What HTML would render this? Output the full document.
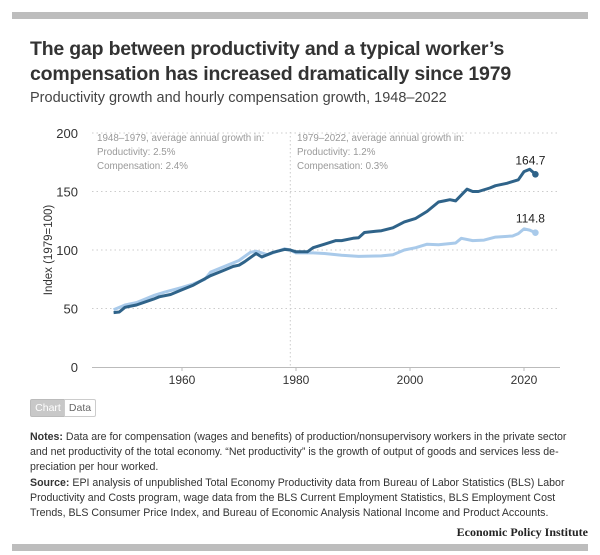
<!DOCTYPE html>
<html><head><meta charset="utf-8"><style>
body{margin:0;background:#fff;width:600px;height:555px;overflow:hidden;font-family:"Liberation Sans",sans-serif;color:#333;position:relative}
.bar{position:absolute;left:12px;width:576px;height:7px;background:#bdbdbd}
.t{position:absolute;left:30px;top:37px;font-size:19.5px;font-weight:bold;line-height:25px;color:#333;letter-spacing:-0.2px}
.s{position:absolute;left:30px;top:90px;font-size:14.5px;color:#444}
.n{position:absolute;left:30px;width:540px;font-size:10.6px;line-height:15px;color:#333}
.btn{position:absolute;top:399px;height:16px;font-size:10.5px;line-height:16px;text-align:center}
</style></head><body>
<div class="bar" style="top:12px"></div>
<div class="t">The gap between productivity and a typical worker’s<br>compensation has increased dramatically since 1979</div>
<div class="s">Productivity growth and hourly compensation growth, 1948–2022</div>
<svg id="c" width="600" height="400" style="position:absolute;left:0;top:0" font-family="Liberation Sans, sans-serif"></svg>
<div class="btn" style="left:30px;width:34px;background:#c8c8c8;color:#fff;border:1px solid #bbb;border-radius:2px 0 0 2px">Chart</div>
<div class="btn" style="left:64px;width:30px;background:#fff;color:#666;border:1px solid #ccc;border-radius:0 2px 2px 0">Data</div>
<div class="n" style="top:430px"><b>Notes:</b> Data are for compensation (wages and benefits) of production/nonsupervisory workers in the private sector and net productivity of the total economy. “Net productivity” is the growth of output of goods and services less de­preciation per hour worked.</div>
<div class="n" style="top:476px"><b>Source:</b> EPI analysis of unpublished Total Economy Productivity data from Bureau of Labor Statistics (BLS) Labor Productivity and Costs program, wage data from the BLS Current Employment Statistics, BLS Employment Cost Trends, BLS Consumer Price Index, and Bureau of Economic Analysis National Income and Product Accounts.</div>
<div style="position:absolute;right:12px;top:525px;font-family:'Liberation Serif',serif;font-weight:bold;font-size:12px;color:#222">Economic Policy Institute</div>
<div class="bar" style="top:544px"></div>
<script>
var X=function(y){return 182+(y-1960)*5.7},Y=function(v){return 367-1.17*v};
var s='';
[50,100,150,200].forEach(function(v){s+='<line x1="92" x2="560" y1="'+Y(v)+'" y2="'+Y(v)+'" stroke="#ccc" stroke-dasharray="1.5,3"/>';});
s+='<line x1="92" x2="560" y1="367.5" y2="367.5" stroke="#bbb"/>';
[0,50,100,150,200].forEach(function(v){s+='<text x="78" y="'+(Y(v)+5)+'" font-size="13" text-anchor="end" fill="#333">'+v+'</text>';});
[1960,1980,2000,2020].forEach(function(y){s+='<line x1="'+X(y)+'" x2="'+X(y)+'" y1="367" y2="371" stroke="#bbb"/><text x="'+X(y)+'" y="384" font-size="12" text-anchor="middle" fill="#333">'+y+'</text>';});
s+='<line x1="'+X(1979)+'" x2="'+X(1979)+'" y1="132" y2="367" stroke="#ccc" stroke-dasharray="1.5,2.5"/>';
s+='<text transform="translate(52,250) rotate(-90)" font-size="11.5" text-anchor="middle" fill="#333">Index (1979=100)</text>';
var a=[['1948–1979, average annual growth in:',97],['1979–2022, average annual growth in:',297]];
a.forEach(function(t,i){var x=t[1];s+='<text x="'+x+'" y="141" font-size="9.8" fill="#999">'+t[0]+'</text><text x="'+x+'" y="155" font-size="9.8" fill="#999">Productivity: '+(i?'1.2%':'2.5%')+'</text><text x="'+x+'" y="169" font-size="9.8" fill="#999">Compensation: '+(i?'0.3%':'2.4%')+'</text>';});
var C=[[1948,49],[1950,53],[1952,55],[1955,61],[1957,64],[1960,68],[1962,71],[1964,75],[1965,81],[1968,87],[1970,91],[1972,98],[1973,99],[1975,96],[1978,101],[1979,100],[1980,97.5],[1983,97.5],[1985,97],[1988,95.5],[1991,94.5],[1995,95],[1997,96],[1999,100],[2001,102],[2003,105],[2005,104.5],[2008,106],[2009,110],[2011,108],[2013,108.5],[2015,111],[2018,112],[2019,114],[2020,118],[2021,117],[2022,114.8]];
var P=[[1948,46.5],[1949,47],[1950,51],[1952,53],[1955,58],[1956,60],[1958,62],[1960,66],[1962,70],[1965,78],[1967,82],[1969,86],[1970,87],[1971,90],[1973,97],[1974,94],[1976,98],[1978,100.5],[1979,100],[1980,98.5],[1982,98.5],[1983,102],[1985,105],[1987,108],[1988,108],[1990,110],[1991,110.5],[1992,115],[1994,116],[1995,116.5],[1997,119],[1999,124],[2001,127],[2003,133],[2005,141],[2006,142],[2007,143],[2008,142],[2010,152],[2011,150],[2012,150],[2014,153],[2015,155],[2017,157],[2019,160],[2020,167],[2021,169],[2022,164.7]];
function path(d,c){return '<polyline fill="none" stroke="'+c+'" stroke-width="3" stroke-linejoin="round" points="'+d.map(function(p){return X(p[0]).toFixed(1)+','+Y(p[1]).toFixed(1)}).join(' ')+'"/><circle cx="'+X(2022)+'" cy="'+Y(d[d.length-1][1])+'" r="3.3" fill="'+c+'"/>';}
s+=path(C,'#a9caea')+path(P,'#2f6389');
s+='<text x="'+(X(2022)-5)+'" y="'+(Y(164.7)-10)+'" font-size="12" text-anchor="middle" fill="#222">164.7</text>';
s+='<text x="'+(X(2022)-5)+'" y="'+(Y(114.8)-10)+'" font-size="12" text-anchor="middle" fill="#222">114.8</text>';
document.getElementById('c').innerHTML=s;
</script>
</body></html>
